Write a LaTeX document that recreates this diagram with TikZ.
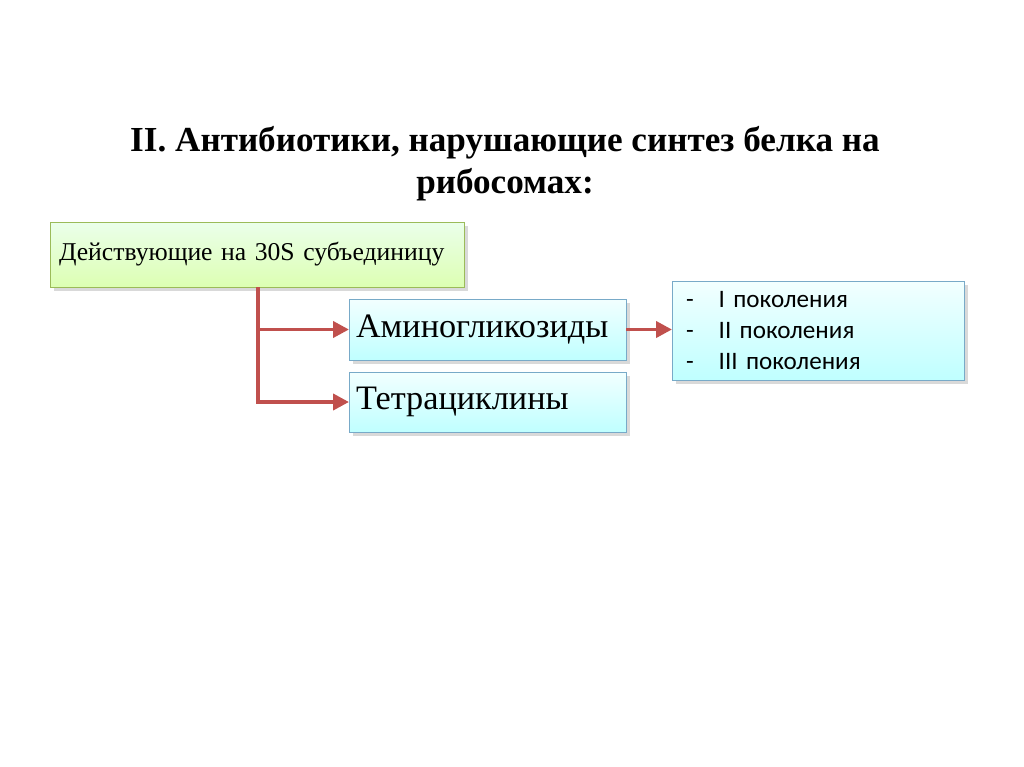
\documentclass[tikz,border=0pt]{standalone}
\usepackage{fontspec}
\setmainfont{Liberation Serif}
\newfontfamily\listfont{Carlito}
\usetikzlibrary{positioning}
\usetikzlibrary{arrows.meta,shadows}
\definecolor{arrowred}{RGB}{192,80,77}
\definecolor{greenedge}{RGB}{155,187,89}
\definecolor{blueedge}{RGB}{120,170,200}

\tikzset{
	greenbox/.style={draw=greenedge,top color=green!8!white,bottom color=green!45!yellow!30!white,drop shadow={opacity=0.3},outer sep=0pt,inner sep=0pt},
	bluebox/.style={draw=blueedge,top color=cyan!5!white,bottom color=cyan!25!white,drop shadow={opacity=0.3},outer sep=0pt,inner sep=0pt},
	link/.style={draw=arrowred,line width=2.2pt,-{Triangle[length=9pt,width=9pt]}}
}

\begin{document}
\begin{tikzpicture}[x=0.02cm,y=-0.02cm]
	\useasboundingbox (0,0) rectangle (1024,767);
	\node [font=\fontsize{20}{24}\selectfont\bfseries,align=center] (title) at (505,164) {II. Антибиотики, нарушающие синтез белка на\\рибосомах:};

	\node [greenbox,minimum width=414*0.02cm,minimum height=65*0.02cm,font=\fontsize{14.6}{16}\selectfont,text width=396*0.02cm,align=left] (s30) at (257,254.5) {Действующие на 30S субъединицу};
	\node [bluebox,minimum width=277*0.02cm,minimum height=61*0.02cm,font=\fontsize{19.5}{21}\selectfont,text width=263*0.02cm,align=left] (amino) at (487.5,329.5) {Аминогликозиды};
	\node [bluebox,minimum width=277*0.02cm,minimum height=60*0.02cm,font=\fontsize{19.5}{21}\selectfont,text width=263*0.02cm,align=left] (tetra) at (487.5,402) {Тетрациклины};
	\node [bluebox,minimum width=292*0.02cm,minimum height=99*0.02cm,font=\listfont\fontsize{14.3}{17.5}\selectfont,text width=264*0.02cm,align=left] (gen) at (818,330.5) {-\hspace{0.5cm}I поколения\\-\hspace{0.5cm}II поколения\\-\hspace{0.5cm}III поколения};

	\coordinate (fork) at (258,287);
	\draw [link] (fork) |- (amino.west);
	\draw [link] (fork) |- (tetra.west);
	\draw [link] (amino.east) -- (gen.west |- amino.east);
\end{tikzpicture}
\end{document}
